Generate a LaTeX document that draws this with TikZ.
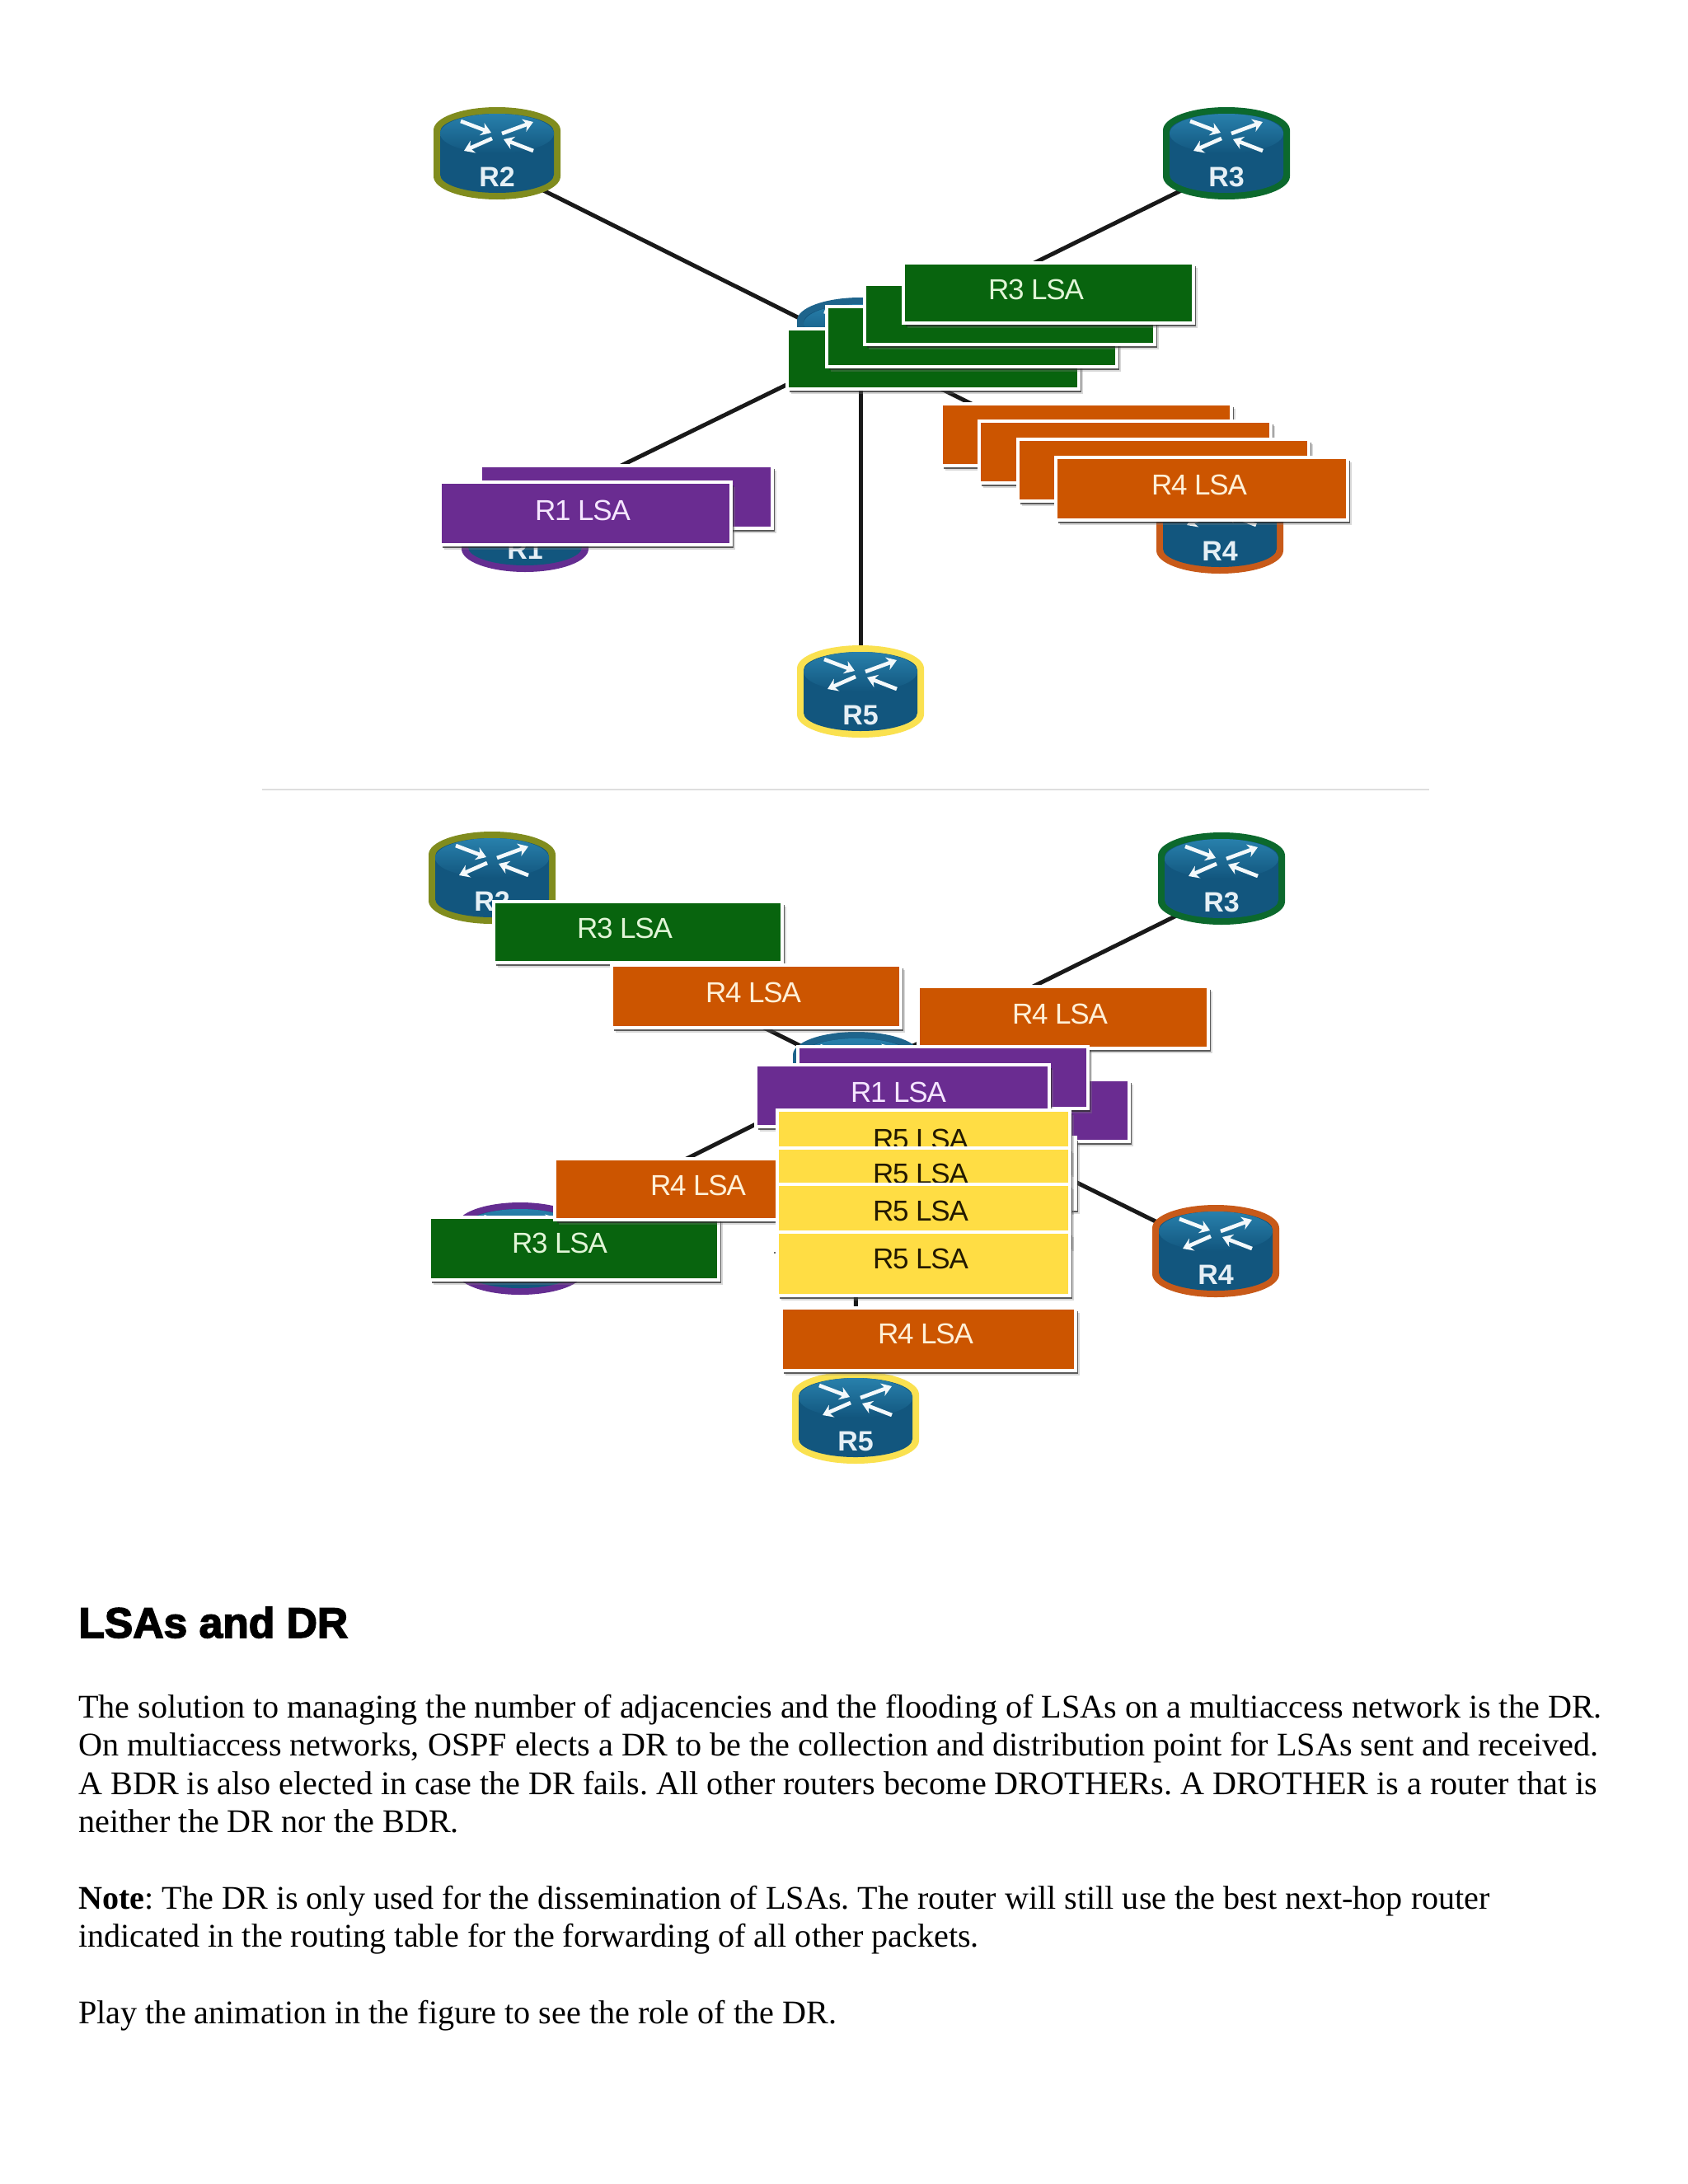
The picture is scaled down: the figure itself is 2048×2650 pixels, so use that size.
\documentclass[tikz,border=0pt]{standalone}
\usepackage{fontspec}
\usetikzlibrary{shadows,arrows.meta}
\setmainfont{Liberation Serif}
\newfontfamily\lsafont[LetterSpace=-3.5]{Liberation Sans}
\newfontfamily\routerfont{Liberation Sans}
\newfontfamily\headfont[FakeBold=3]{Liberation Sans Bold}
\definecolor{lsagreen}{RGB}{8,100,14}
\definecolor{lsaorange}{RGB}{204,85,0}
\definecolor{lsapurple}{RGB}{106,44,145}
\definecolor{lsayellow}{RGB}{255,221,68}
\definecolor{lsawhite}{RGB}{255,255,255}
\definecolor{lsagreentxt}{RGB}{225,245,215}
\definecolor{lsaorangetxt}{RGB}{255,240,215}
\definecolor{lsapurpletxt}{RGB}{245,230,255}
\definecolor{lsayellowtxt}{RGB}{35,25,0}
\definecolor{lsawhitetxt}{RGB}{255,255,255}
\definecolor{rolive}{RGB}{128,140,30}
\definecolor{rgreen}{RGB}{12,105,45}
\definecolor{rpurple}{RGB}{100,45,145}
\definecolor{rorange}{RGB}{200,90,25}
\definecolor{ryellow}{RGB}{250,225,80}
\definecolor{rnone}{RGB}{30,100,140}
\definecolor{rdark}{RGB}{18,86,126}
\definecolor{rmid}{RGB}{40,126,168}
\definecolor{rtop}{RGB}{40,128,172}
\tikzset{
  link/.style={draw=black!90,line width=2.5pt},
  spot/.style={inner sep=0pt,outer sep=0pt,minimum size=1pt},
  lsabox/.style={draw=white,line width=2.4pt,inner sep=0pt,
    drop shadow={shadow xshift=2.6pt,shadow yshift=-3.2pt,fill=black!50,opacity=.3},
    drop shadow={shadow xshift=1.6pt,shadow yshift=-2pt,fill=black!85,opacity=.7}},
  lsatext/.style={font=\lsafont\fontsize{17.5}{20}\selectfont,inner sep=0pt},
  rarrow/.style={draw=white!95!rmid,line width=2.3pt,-{Stealth[length=6pt,width=8pt]}},
  rlabel/.style={font=\routerfont\bfseries\fontsize{17}{20}\selectfont,text=white!88!rmid,inner sep=0pt,anchor=base},
  body/.style={font=\fontsize{20.07}{23}\selectfont\frenchspacing,inner sep=0pt,anchor=base west},
  heading/.style={font=\headfont\fontsize{25.8}{29}\selectfont,inner sep=0pt,anchor=base west}
}
% #1 name, #2-#5 x1 y1 x2 y2, #6 colour, #7 text, #8 #9 text position
\newcommand{\lsa}[9]{%
  \pgfmathsetmacro{\lw}{(#4-#2)/2}\pgfmathsetmacro{\lh}{(#5-#3)/2}%
  \pgfmathsetmacro{\lx}{(#2+#4)/2}\pgfmathsetmacro{\ly}{(#3+#5)/2}%
  \node[lsabox,fill=#6,minimum width=\lw pt,minimum height=\lh pt] (#1) at (\lx,\ly) {};%
  \node[lsatext,text=#6txt] (#1t) at (#8,#9) {#7};%
}
% #1 spot name, #2 colour, #3 label
\newcommand{\router}[3]{%
  \begin{scope}[shift={(#1.center)}]
    \fill[#2] (-77,-28) arc[start angle=180,end angle=0,x radius=38.5pt,y radius=14pt]
      -- (77,28) arc[start angle=0,end angle=-180,x radius=38.5pt,y radius=14pt] -- cycle;
    \shade[left color=rdark,middle color=rmid,right color=rdark]
      (-69,-26) arc[start angle=180,end angle=0,x radius=34.5pt,y radius=11pt]
      -- (69,26) arc[start angle=0,end angle=-180,x radius=34.5pt,y radius=11pt] -- cycle;
    \shade[top color=rtop,bottom color=rdark] (0,-24) ellipse[x radius=34.5pt,y radius=12pt];
    \draw[rarrow] (-44,-39) -- (-7,-25);
    \draw[rarrow] (6,-24) -- (44,-38);
    \draw[rarrow] (44,-3) -- (8,-17);
    \draw[rarrow] (-6,-18) -- (-40,-3);
    \node[rlabel] at (0,40) {#3};
  \end{scope}}
\begin{document}
\begin{tikzpicture}[x=.5pt,y=-.5pt]
\useasboundingbox (0,0) rectangle (2048,2650);
\fill[white] (0,0) rectangle (2048,2650);
% panel 1
\node[spot] (ar2) at (603,186) {};
\node[spot] (ar3) at (1488,186) {};
\node[spot] (ar1) at (637,638) {};
\node[spot] (ar4) at (1480,640) {};
\node[spot] (ar5) at (1044,839) {};
\node[spot] (ahub) at (1044,417) {};
\draw[link] ([yshift=-8.5pt]ar2.center) -- ([yshift=-3pt]ahub.center);
\draw[link] ([yshift=-9pt]ar3.center) -- ([yshift=-3pt]ahub.center);
\draw[link] ([yshift=8pt]ar1.center) -- ([yshift=-3pt]ahub.center);
\draw[link] (ar4.center) -- ([yshift=-3pt]ahub.center);
\draw[link] (ar5.center) -- (ahub.center);
\router{ar2}{rolive}{R2}
\router{ar3}{rgreen}{R3}
\router{ar1}{rpurple}{R1}
\router{ar4}{rorange}{R4}
\router{ar5}{ryellow}{R5}
\router{ahub}{rnone}{}
\lsa{ag4}{955}{399}{1309}{472}{lsagreen}{}{1130}{436}
\lsa{ag3}{1003}{372}{1355}{445}{lsagreen}{}{1180}{408}
\lsa{ag2}{1049}{345}{1401}{418}{lsagreen}{}{1225}{381}
\lsa{ag1}{1096}{319}{1448}{392}{lsagreen}{R3 LSA}{1257}{351}
\lsa{ao1}{1142}{490}{1494}{565}{lsaorange}{}{1318}{527}
\lsa{ao2}{1188}{511}{1542}{586}{lsaorange}{}{1365}{548}
\lsa{ao3}{1235}{533}{1588}{608}{lsaorange}{}{1411}{570}
\lsa{ao4}{1281}{555}{1635}{631}{lsaorange}{R4 LSA}{1455}{588}
\lsa{ap1}{583}{565}{937}{641}{lsapurple}{}{760}{603}
\lsa{ap2}{534}{585}{887}{661}{lsapurple}{R1 LSA}{707}{619}
% separator
\draw[black!13,line width=1.2pt] (318,958) -- (1734,958);
% panel 2
\node[spot] (br2) at (597,1065) {};
\node[spot] (br3) at (1482,1066) {};
\node[spot] (br1) at (631,1515) {};
\node[spot] (br4) at (1475,1518) {};
\node[spot] (br5) at (1038,1720) {};
\node[spot] (bhub) at (1039,1308) {};
\draw[link] ([yshift=-8.5pt]br2.center) -- ([yshift=2.5pt]bhub.center);
\draw[link] ([yshift=-9pt]br3.center) -- ([yshift=2.5pt]bhub.center);
\draw[link] ([yshift=4pt]br1.center) -- ([yshift=2.5pt]bhub.center);
\draw[link] (br4.center) -- ([yshift=2.5pt]bhub.center);
\draw[link] (br5.center) -- (bhub.center);
\router{br2}{rolive}{R2}
\router{br3}{rgreen}{R3}
\router{br1}{rpurple}{R1}
\router{br4}{rorange}{R4}
\router{br5}{ryellow}{R5}
\router{bhub}{rnone}{}
\lsa{bga}{599}{1094}{949}{1168}{lsagreen}{R3 LSA}{758}{1126}
\lsa{boa}{742}{1171}{1093}{1247}{lsaorange}{R4 LSA}{914}{1204}
\lsa{bob}{1114}{1197}{1466}{1272}{lsaorange}{R4 LSA}{1286}{1230}
\lsa{bpd}{1018}{1310}{1370}{1385}{lsapurple}{}{1194}{1347}
\lsa{bpc}{968}{1270}{1320}{1345}{lsapurple}{}{1144}{1307}
\lsa{bpe}{917}{1292}{1273}{1367}{lsapurple}{R1 LSA}{1090}{1325}
\lsa{bha}{1000}{1380}{1305}{1467}{lsawhite}{}{1150}{1420}
\lsa{bhb}{936}{1450}{1200}{1517}{lsawhite}{}{1060}{1480}
\lsa{bgb}{521}{1477}{872}{1553}{lsagreen}{R3 LSA}{679}{1508}
\lsa{bol}{673}{1406}{1025}{1480}{lsaorange}{R4 LSA}{847}{1438}
\lsa{byd}{943}{1347}{1298}{1422}{lsayellow}{R5 LSA}{1117}{1382}
\lsa{byc}{943}{1393}{1298}{1468}{lsayellow}{R5 LSA}{1117}{1424}
\lsa{byb}{943}{1437}{1298}{1512}{lsayellow}{R5 LSA}{1117}{1469}
\lsa{bya}{943}{1495}{1298}{1572}{lsayellow}{R5 LSA}{1117}{1527}
\lsa{bol2}{948}{1587}{1305}{1663}{lsaorange}{R4 LSA}{1123}{1618}
% text
\node[heading] (title) at (95,1987) {LSAs and DR};
\node[body] (l1) at (95,2084.5) {The solution to managing the number of adjacencies and the flooding of LSAs on a multiaccess network is the DR.};
\node[body] (l2) at (95,2130.5) {On multiaccess networks, OSPF elects a DR to be the collection and distribution point for LSAs sent and received.};
\node[body] (l3) at (95,2177.5) {A BDR is also elected in case the DR fails. All other routers become DROTHERs. A DROTHER is a router that is};
\node[body] (l4) at (95,2223.5) {neither the DR nor the BDR.};
\node[body] (l5) at (95,2316.5) {\textbf{Note}: The DR is only used for the dissemination of LSAs. The router will still use the best next-hop router};
\node[body] (l6) at (95,2362.5) {indicated in the routing table for the forwarding of all other packets.};
\node[body] (l7) at (95,2455.5) {Play the animation in the figure to see the role of the DR.};
\end{tikzpicture}
\end{document}
